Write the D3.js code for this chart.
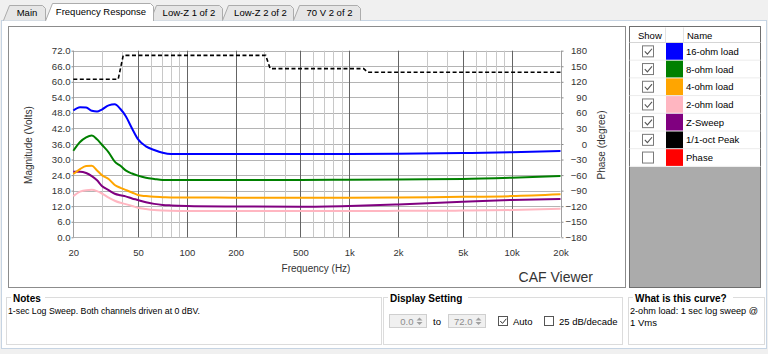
<!DOCTYPE html>
<html>
<head>
<meta charset="utf-8">
<script src="https://cdn.jsdelivr.net/npm/d3@7"></script>
<style>
  body { margin: 0; background: #f0f0f0; overflow: hidden; }
  text { font-family: "Liberation Sans", Arial, sans-serif; }
</style>
</head>
<body>
<div id="chart"></div>
<script>
// values
var freqs   = [20, 22, 24, 26, 28, 30, 33, 36, 39, 42, 46, 50, 56, 63, 71, 80, 100, 200, 500, 1000, 2000, 5000, 10000, 20000];
var ohm16   = [48.9, 50.2, 50.1, 48.8, 48.5, 49.3, 50.9, 51.3, 49.5, 46.8, 42.0, 37.9, 35.1, 33.7, 32.6, 32.1, 32.1, 32.1, 32.1, 32.1, 32.2, 32.5, 32.8, 33.3];
var ohm8    = [33.4, 36.8, 38.6, 39.3, 37.8, 35.7, 32.8, 29.2, 27.6, 25.8, 24.6, 23.8, 23.0, 22.5, 22.1, 22.1, 22.1, 22.1, 22.1, 22.2, 22.3, 22.5, 23.0, 23.7];
var ohm4    = [24.4, 26.3, 27.5, 27.6, 25.8, 24.0, 22.5, 20.2, 19.1, 18.3, 17.3, 16.3, 15.9, 15.6, 15.5, 15.4, 15.4, 15.3, 15.3, 15.3, 15.4, 15.6, 15.9, 16.6];
var ohm2    = [15.9, 17.6, 18.2, 18.3, 17.8, 16.9, 15.3, 14.1, 13.3, 12.8, 12.1, 11.4, 10.9, 10.5, 10.3, 10.2, 10.1, 10.1, 10.1, 10.1, 10.2, 10.3, 10.5, 11.0];
var zSweep  = [25.3, 25.3, 24.8, 23.6, 22.0, 19.8, 18.2, 16.8, 16.2, 15.8, 15.0, 14.4, 13.5, 12.9, 12.5, 12.3, 12.1, 11.9, 11.8, 12.1, 12.7, 13.7, 14.4, 14.8];
var peakFreqs = [20, 37.8, 40.6, 306, 326, 1227, 1300, 20000];
var peakVals  = [61.0, 61.0, 70.2, 70.2, 65.1, 65.1, 63.7, 63.7];

var magTicks   = d3.range(0, 72.1, 6);
var phaseTicks = d3.range(-180, 181, 30);
var freqTicks  = [20, 50, 100, 200, 500, 1000, 2000, 5000, 10000, 20000];
var freqLabels = ["20", "50", "100", "200", "500", "1k", "2k", "5k", "10k", "20k"];

var seriesNames  = ["16-ohm load", "8-ohm load", "4-ohm load", "2-ohm load", "Z-Sweep", "1/1-oct Peak", "Phase"];
var seriesColors = ["#0000ff", "#008000", "#ffa500", "#ffb6c1", "#800080", "#000000", "#ff0000"];
var seriesShown  = [true, true, true, true, true, true, false];
var tabNames = ["Main", "Frequency Response", "Low-Z 1 of 2", "Low-Z 2 of 2", "70 V 2 of 2"];

var width = 768,
    height = 354;

var svg = d3.select("#chart").append("svg")
  .attr("width", width)
  .attr("height", height);

// window + tab page
svg.append("rect").attr("width", width).attr("height", height).attr("fill", "#f0f0f0");
svg.append("rect")
  .attr("x", 1.5).attr("y", 20.5).attr("width", 765).attr("height", 328)
  .attr("fill", "#fff").attr("stroke", "#c6d4e3");

// tabs
var tabEdges = [3, 45, 150, 222, 293, 360];
var tabs = svg.append("g");
tabNames.forEach(function (name, i) {
  if (i == 1) return;
  var x0 = tabEdges[i], x1 = tabEdges[i + 1];
  tabs.append("path")
    .attr("d", "M" + (x0 + 0.5) + ",20.5L" + (x0 + 6.5) + ",5.5L" + (x1 - 2.5) + ",5.5L" + (x1 + 0.5) + ",8.5L" + (x1 + 0.5) + ",20.5")
    .attr("fill", "#e6e6e6").attr("stroke", "#acacac");
  tabs.append("text")
    .attr("x", (x0 + x1) / 2 + 3).attr("y", 16)
    .attr("text-anchor", "middle").attr("font-size", 9.5).attr("fill", "#000")
    .text(name);
});
tabs.append("path")
  .attr("d", "M45.5,21L52.5,3.5L150.5,3.5L153.5,6.5L153.5,21")
  .attr("fill", "#fff").attr("stroke", "#acacac");
tabs.append("text")
  .attr("x", 101).attr("y", 15).attr("text-anchor", "middle")
  .attr("font-size", 9.5).text(tabNames[1]);

// chart frame
svg.append("rect")
  .attr("x", 8.5).attr("y", 26.5).attr("width", 617).attr("height", 261)
  .attr("fill", "#fff").attr("stroke", "#8c8c8c");

var x = d3.scaleLog().domain([20, 20000]).range([73.3, 560.5]);
var y = d3.scaleLinear().domain([0, 72]).range([237.3, 50.7]);
var yPhase = d3.scaleLinear().domain([-180, 180]).range([237.3, 50.7]);

// grid
var grid = svg.append("g");
var major = [50, 100, 200, 500, 1000, 2000, 5000, 10000];
var minor = x.ticks().filter(function (d) { return major.indexOf(d) < 0 && d > 20 && d < 20000; });
grid.selectAll(".hgrid").data(magTicks).enter().append("line")
  .attr("x1", x(20)).attr("x2", x(20000))
  .attr("y1", function (d) { return Math.round(y(d)) + 0.5; })
  .attr("y2", function (d) { return Math.round(y(d)) + 0.5; })
  .attr("stroke", "#b4b4b4");
grid.selectAll(".vminor").data(minor).enter().append("line")
  .attr("x1", function (d) { return Math.round(x(d)) + 0.5; })
  .attr("x2", function (d) { return Math.round(x(d)) + 0.5; })
  .attr("y1", y(72)).attr("y2", y(0))
  .attr("stroke", "#c8c8c8");
grid.selectAll(".vmajor").data(major).enter().append("line")
  .attr("x1", function (d) { return Math.round(x(d)) + 0.5; })
  .attr("x2", function (d) { return Math.round(x(d)) + 0.5; })
  .attr("y1", y(72)).attr("y2", y(0))
  .attr("stroke", "#646464");
grid.selectAll(".vedge").data([20, 20000]).enter().append("line")
  .attr("x1", function (d) { return Math.round(x(d)) + 0.5; })
  .attr("x2", function (d) { return Math.round(x(d)) + 0.5; })
  .attr("y1", y(72)).attr("y2", y(0))
  .attr("stroke", "#a0a0a0");

// axes
var mono = '"DejaVu Sans Mono", "Liberation Mono", monospace';
var leftAxis = svg.append("g")
  .attr("transform", "translate(" + (Math.round(x(20)) + 0.5) + ",0)")
  .call(d3.axisLeft(y).tickValues(magTicks).tickFormat(d3.format(".1f")).tickSize(2).tickPadding(1));
var rightAxis = svg.append("g")
  .attr("transform", "translate(" + (Math.round(x(20000)) + 0.5) + ",0)")
  .call(d3.axisRight(yPhase).tickValues(phaseTicks).tickSize(2).tickPadding(1));
[leftAxis, rightAxis].forEach(function (a) {
  a.select(".domain").remove();
  a.selectAll("line").attr("stroke", "#8c8c8c");
  a.selectAll("text").attr("font-family", mono).attr("font-size", 9.6).attr("fill", "#333");
});
rightAxis.selectAll("text").attr("text-anchor", "end").attr("x", 25.5);

var bottomAxis = svg.append("g")
  .attr("transform", "translate(0," + y(0) + ")")
  .call(d3.axisBottom(x).tickValues(freqTicks).tickFormat(function (d, i) { return freqLabels[i]; }).tickSize(0).tickPadding(12));
bottomAxis.select(".domain").remove();
bottomAxis.selectAll("text").attr("font-family", '"Liberation Sans", Arial, sans-serif').attr("font-size", 9.5).attr("fill", "#333");

svg.append("text")
  .attr("x", 316).attr("y", 272).attr("text-anchor", "middle")
  .attr("font-size", 10).attr("fill", "#333").text("Frequency (Hz)");
svg.append("text")
  .attr("transform", "translate(32,145) rotate(-90)").attr("text-anchor", "middle")
  .attr("font-size", 10).attr("fill", "#333").text("Magnitude (Volts)");
svg.append("text")
  .attr("transform", "translate(605,145) rotate(-90)").attr("text-anchor", "middle")
  .attr("font-size", 10).attr("fill", "#333").text("Phase (degree)");
svg.append("text")
  .attr("x", 593).attr("y", 282).attr("text-anchor", "end")
  .attr("font-size", 14).attr("fill", "#333").text("CAF Viewer");

// curves
var line = d3.line()
  .x(function (d) { return x(d[0]); })
  .y(function (d) { return y(d[1]); })
  .curve(d3.curveMonotoneX);

var curves = [ohm16, ohm8, ohm4, ohm2, zSweep];
var order = [3, 4, 2, 1, 0];
order.forEach(function (k) {
  svg.append("path")
    .datum(d3.zip(freqs, curves[k]))
    .attr("d", line)
    .attr("fill", "none")
    .attr("stroke", seriesColors[k])
    .attr("stroke-width", 2);
});

svg.append("path")
  .datum(d3.zip(peakFreqs, peakVals))
  .attr("d", d3.line().x(function (d) { return x(d[0]); }).y(function (d) { return y(d[1]); }))
  .attr("fill", "none")
  .attr("stroke", "#000")
  .attr("stroke-width", 1.6)
  .attr("stroke-dasharray", "4,2.5");

// legend table
var lx = 629.5, ly = 26.5, lw = 131, lh = 261, rowH = 17.7, headH = 16;
var legend = svg.append("g");
legend.append("rect").attr("x", lx).attr("y", ly).attr("width", lw).attr("height", lh)
  .attr("fill", "#ababab").attr("stroke", "#6e6e6e");
legend.append("rect").attr("x", lx + 0.5).attr("y", ly + 0.5).attr("width", lw - 1).attr("height", headH + rowH * seriesNames.length)
  .attr("fill", "#fff");
legend.append("line").attr("x1", lx).attr("x2", lx + lw).attr("y1", ly + headH).attr("y2", ly + headH).attr("stroke", "#d5d5d5");
[665.5, 683.5].forEach(function (sx) {
  legend.append("line").attr("x1", sx).attr("x2", sx).attr("y1", ly + 1).attr("y2", ly + headH).attr("stroke", "#e3e3e3");
});
legend.append("text").attr("x", 638).attr("y", ly + 12).attr("font-size", 9.5).text("Show");
legend.append("text").attr("x", 687).attr("y", ly + 12).attr("font-size", 9.5).text("Name");

var rows = legend.selectAll(".row").data(seriesNames).enter().append("g")
  .attr("transform", function (d, i) { return "translate(0," + (ly + headH + i * rowH) + ")"; });
rows.append("line").attr("x1", lx).attr("x2", lx + lw).attr("y1", rowH).attr("y2", rowH).attr("stroke", "#ececec");
rows.append("rect")
  .attr("x", 642.5).attr("y", rowH / 2 - 5.5).attr("width", 11).attr("height", 11)
  .attr("fill", "#fff").attr("stroke", "#7a7a7a");
rows.filter(function (d, i) { return seriesShown[i]; }).append("path")
  .attr("d", "M644.8," + (rowH / 2) + "l2.6,2.8l4.6,-5.4")
  .attr("fill", "none").attr("stroke", "#555").attr("stroke-width", 1.1);
rows.append("rect")
  .attr("x", 666).attr("y", 0.5).attr("width", 17).attr("height", rowH - 1)
  .attr("fill", function (d, i) { return seriesColors[i]; });
rows.append("text")
  .attr("x", 686).attr("y", rowH / 2 + 3.5).attr("font-size", 9.5)
  .text(function (d) { return d; });

// bottom group boxes
function groupBox(x0, x1, title, tw) {
  svg.append("rect").attr("x", x0 + 0.5).attr("y", 297.5).attr("width", x1 - x0).attr("height", 47)
    .attr("fill", "none").attr("stroke", "#dcdcdc");
  svg.append("rect").attr("x", x0 + 5).attr("y", 292).attr("width", tw).attr("height", 10).attr("fill", "#fff");
  svg.append("text").attr("x", x0 + 7).attr("y", 301.5).attr("font-size", 10).attr("font-weight", "bold").text(title);
}
groupBox(6, 381, "Notes", 34);
groupBox(383, 622, "Display Setting", 80);
groupBox(628, 764, "What is this curve?", 100);

svg.append("text").attr("x", 8).attr("y", 314).attr("font-size", 9.5)
  .attr("textLength", 192).attr("lengthAdjust", "spacingAndGlyphs")
  .text("1-sec Log Sweep. Both channels driven at 0 dBV.");
svg.append("text").attr("x", 630).attr("y", 314).attr("font-size", 9.5)
  .attr("textLength", 128).attr("lengthAdjust", "spacingAndGlyphs")
  .text("2-ohm load: 1 sec log sweep @");
svg.append("text").attr("x", 630).attr("y", 326).attr("font-size", 9.5).text("1 Vms");

// display setting controls
[[389.5, "0.0"], [448.5, "72.0"]].forEach(function (s) {
  svg.append("rect").attr("x", s[0]).attr("y", 314.5).attr("width", 37).attr("height", 13)
    .attr("fill", "#f0f0f0").attr("stroke", "#cfcfcf");
  svg.append("text").attr("x", s[0] + 24).attr("y", 324.5).attr("text-anchor", "end")
    .attr("font-size", 9.5).attr("fill", "#8d8d8d").text(s[1]);
  svg.append("path").attr("d", "M" + (s[0] + 27) + ",320.5L" + (s[0] + 30) + ",317.5L" + (s[0] + 33) + ",320.5Z M" + (s[0] + 27) + ",322L" + (s[0] + 30) + ",325L" + (s[0] + 33) + ",322Z")
    .attr("fill", "#a0a0a0");
});
svg.append("text").attr("x", 433).attr("y", 325).attr("font-size", 9.5).text("to");
svg.append("rect").attr("x", 498.5).attr("y", 316.5).attr("width", 9).attr("height", 9).attr("fill", "#fff").attr("stroke", "#555");
svg.append("path").attr("d", "M500.3,321l2.2,2.4l3.8,-4.6").attr("fill", "none").attr("stroke", "#333").attr("stroke-width", 1);
svg.append("text").attr("x", 513).attr("y", 325).attr("font-size", 9.5).text("Auto");
svg.append("rect").attr("x", 544.5).attr("y", 316.5).attr("width", 9).attr("height", 9).attr("fill", "#fff").attr("stroke", "#555");
svg.append("text").attr("x", 559).attr("y", 325).attr("font-size", 9.5).text("25 dB/decade");
</script>
</body>
</html>
